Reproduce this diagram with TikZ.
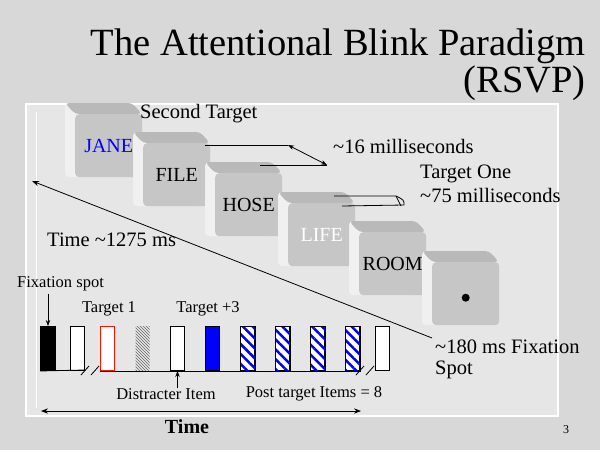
\documentclass[tikz,border=0pt]{standalone}
\usepackage{fontspec}
\setmainfont{Liberation Serif}
\usetikzlibrary{patterns,patterns.meta,arrows.meta}
\definecolor{bg}{HTML}{D8D8D8}
\definecolor{panel}{HTML}{E6E6E6}
\tikzset{
 lbl/.style={inner sep=0pt,font=\fontsize{20.5}{22}\selectfont},
 sml/.style={inner sep=0pt,font=\fontsize{16.5}{18}\selectfont},
 bar/.style={draw=black,line width=1pt,minimum width=14pt,minimum height=44pt,inner sep=0pt,anchor=north west},
 thin/.style={line width=0.8pt}
}
\newcommand{\card}[4]{% name, x, y, text
 \fill[gray!12,rounded corners=4pt] (#2-10,#3-11) rectangle (#2+57,#3+63);
 \fill[gray!55,rounded corners=4pt] (#2-10,#3-11) -- (#2+57,#3-11) -- (#2+67,#3) -- (#2,#3) -- cycle;
 \node[fill=gray!45,rounded corners=4pt,minimum width=67pt,minimum height=63pt,anchor=north west,inner sep=0pt] (#1) at (#2,#3) {#4};}
\begin{document}
\begin{tikzpicture}[x=1pt,y=-1pt]
\useasboundingbox (0,0) rectangle (600,450);
\fill[bg] (0,0) rectangle (600,450);
\fill[panel] (26,104) rectangle (558,416);
\draw[white,line width=1.2pt] (26,104) rectangle (558,416);
\draw[white,line width=1pt] (36,112) -- (36,408);
\node[inner sep=0pt,anchor=base east,font=\fontsize{38.5}{42}\selectfont] (t1) at (586,55) {The Attentional Blink Paradigm};
\node[inner sep=0pt,anchor=base east,font=\fontsize{38.5}{42}\selectfont] (t2) at (586,92) {(RSVP)};
\card{c1}{75}{114}{\fontsize{20}{22}\selectfont\color{blue}JANE}
\card{c2}{143}{143}{\fontsize{20}{22}\selectfont FILE}
\card{c3}{215}{173}{\fontsize{20}{22}\selectfont HOSE}
\card{c4}{288}{203}{\fontsize{20}{22}\selectfont\color{white}LIFE}
\card{c5}{359}{232}{\fontsize{20}{22}\selectfont ROOM}
\card{c6}{432}{262}{}
\fill (c6.center)++(0,4) circle (4);
\node[lbl,anchor=base west] (st) at (140,118) {Second Target};
\node[lbl,anchor=base west] (m16) at (333,153) {\textasciitilde16 milliseconds};
\node[lbl,anchor=base west] (t1o) at (420,178) {Target One};
\node[lbl,anchor=base west] (m75) at (420,202) {\textasciitilde75 milliseconds};
\coordinate (a1) at (288,145); \coordinate (a2) at (327,165);
\draw[thin] (205,145) -- (a1);
\draw[thin] (260,165) -- (a2);
\draw[thin,{Stealth[length=6pt]}-{Stealth[length=6pt]}] (a1) -- (a2);
\draw[thin] (334,196) -- (396,196) .. controls (404,200) .. (404,205) -- (342,206);
\draw[thin] (396,196) -- (401,206);
\coordinate (d1) at (32,181); \coordinate (d2) at (432,338);
\draw[thin,-{Stealth[length=7pt]}] (d2) -- (d1);
\node[lbl,anchor=base west] (tm) at (47,246) {Time \textasciitilde1275 ms};
\node[lbl,anchor=base west] (f180) at (435,353) {\textasciitilde180 ms Fixation};
\node[lbl,anchor=base west] (sp) at (435,374) {Spot};
\node[sml,anchor=base west] (fs) at (17,287) {Fixation spot};
\node[sml] (tg1) at (109,309) {Target 1};
\node[sml] (tg3) at (208,309) {Target +3};
\node[sml] (dis) at (166,394) {Distracter Item};
\node[sml] (pti) at (314,394) {Post target Items = 8};
\node[bar,fill=black,minimum width=15pt] (b1) at (40,326) {};
\node[bar,fill=white] (b2) at (70,326) {};
\node[bar,fill=white,draw=red!85!orange] (b3) at (100,326) {};
\node[bar,draw=none,pattern=north west lines,pattern color=gray!80!black] (b4) at (135,326) {};
\node[bar,fill=white] (b5) at (170,326) {};
\node[bar,fill=blue] (b6) at (205,326) {};
\foreach \i/\x in {7/240,8/275,9/310,10/345}{
 \node[bar,fill=white] (b\i) at (\x,326) {};
 \fill[pattern={Lines[angle=-45,distance=7pt,line width=2.5pt]},pattern color=blue] (b\i.north west) rectangle (b\i.south east);
 \draw[line width=1pt] (b\i.north west) rectangle (b\i.south east);
}
\node[bar,fill=white] (b11) at (375,326) {};
\draw[thin] (b1.south west) -- (85,370);
\draw[thin] (81,375) -- (89,366); \draw[thin] (91,375) -- (99,366);
\draw[thin] (b3.south west) -- (b10.south east);
\draw[thin] (356,375) -- (364,366); \draw[thin] (366,375) -- (374,366);
\draw[thin,-{Stealth[length=6pt]}] (fs.south -| b1.north) ++(0,3) coordinate (fa) -- (b1.north);
\draw[thin,-{Stealth[length=6pt]}] (dis.north -| b5.south) -- (b5.south);
\coordinate (ta) at (41,411); \coordinate (tb) at (361,411);
\draw[thin,{Stealth[length=7pt]}-{Stealth[length=7pt]}] (ta) -- (tb);
\node[lbl,font=\fontsize{20}{22}\selectfont\bfseries] (tim) at (187,427) {Time};
\node[inner sep=0pt,font=\fontsize{12}{13}\selectfont] (pg) at (566,430) {3};
\end{tikzpicture}
\end{document}
